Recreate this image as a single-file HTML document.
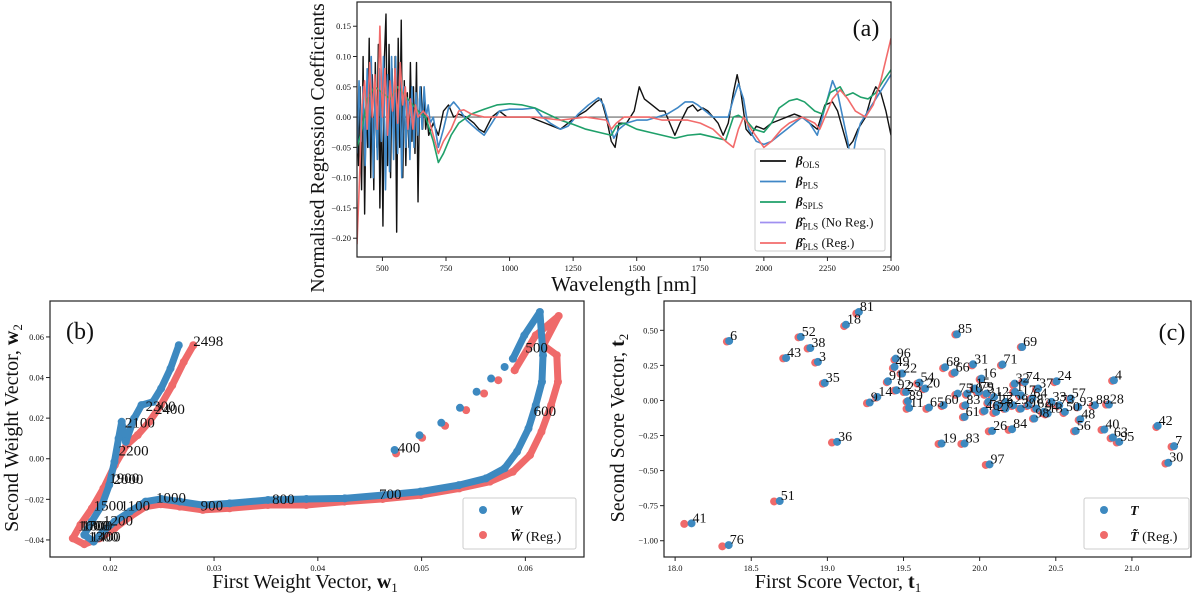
<!DOCTYPE html>
<html><head><meta charset="utf-8"><style>
html,body{margin:0;padding:0;background:#fff}
svg{display:block}
text{font-family:"Liberation Serif","DejaVu Serif",serif;fill:#111}
.tick{font-size:8.5px}
</style></head><body>
<svg id="fig" width="1200" height="593" viewBox="0 0 1200 593" xmlns="http://www.w3.org/2000/svg">
<g id="pa"></g>
<g id="pb"></g>
<g id="pc"></g>
</svg>
<script>
// ---------- Panel (a) data ----------
const olsWave=[400,406,412,418,424,430,436,442,448,454,460,466,472,478,484,490,496,502,508,514,520,526,532,538,544,550,556,562,568,574,580,586,592,598,604,610,616,622,628,634,640,646,652,658,664,670,676,682,700,720,740,760,780,800,830,860,880,900,930,960,990,1020,1050,1080,1110,1140,1170,1200,1230,1260,1300,1340,1360,1380,1400,1415,1430,1460,1490,1510,1530,1560,1590,1610,1630,1650,1670,1700,1720,1740,1760,1780,1800,1820,1840,1860,1880,1895,1910,1930,1950,1970,2000,2030,2060,2090,2120,2150,2180,2210,2240,2270,2290,2310,2330,2350,2370,2400,2420,2440,2460,2480,2500];
const olsVal=[0.0,-0.08,0.05,-0.12,0.1,-0.16,0.03,-0.05,0.13,-0.1,0.07,-0.12,0.09,-0.05,0.12,-0.15,0.04,-0.18,0.1,0.17,-0.08,0.12,-0.1,0.08,-0.06,0.1,-0.19,0.13,-0.05,0.16,-0.1,0.06,-0.08,0.04,-0.05,0.09,-0.04,0.05,-0.06,0.09,-0.14,0.03,0.05,-0.02,0.04,-0.02,0.0,-0.03,-0.01,-0.03,0.01,0.02,0.0,0.005,0.0,-0.01,-0.02,-0.025,0.0,0.01,0.0,0.0,0.0,0.0,-0.005,-0.01,-0.015,-0.02,-0.01,0.0,0.01,0.025,0.03,0.0,-0.04,-0.05,-0.01,-0.01,0.01,0.05,0.03,0.02,0.01,0.01,-0.01,-0.03,-0.01,0.015,0.02,0.01,0.015,0.01,0.0,-0.01,-0.03,-0.01,0.04,0.07,0.04,-0.02,-0.03,-0.015,-0.02,-0.01,-0.005,0.0,0.005,0.0,-0.01,-0.02,0.02,0.025,0.01,-0.02,-0.05,-0.04,-0.02,0.0,0.03,0.05,0.04,0.01,-0.03];
const plsWave=[400,408,416,424,432,440,448,456,464,472,480,488,496,504,512,520,528,536,544,552,560,568,576,584,592,600,608,616,624,632,640,648,656,664,672,680,688,700,720,740,760,780,800,830,870,900,930,960,1000,1050,1100,1130,1160,1200,1230,1270,1310,1350,1370,1390,1410,1430,1460,1500,1540,1580,1620,1660,1690,1720,1740,1770,1800,1830,1860,1880,1900,1920,1940,1970,2000,2030,2060,2090,2120,2150,2180,2210,2230,2250,2270,2290,2310,2330,2345,2360,2380,2410,2440,2470,2500];
const plsVal=[-0.06,0.06,-0.04,0.05,-0.08,0.08,-0.05,0.1,-0.1,0.05,-0.07,0.08,-0.04,0.1,-0.12,0.07,-0.09,0.1,-0.07,0.1,-0.06,0.08,-0.1,0.05,-0.05,0.03,-0.07,0.05,-0.05,0.04,-0.03,0.05,-0.02,0.05,0.0,0.02,-0.01,0.0,-0.05,-0.02,0.015,0.025,0.015,-0.005,-0.02,-0.03,-0.01,0.01,0.013,0.013,0.015,0.0,-0.01,-0.02,-0.015,0.005,0.02,0.032,0.02,-0.01,-0.035,-0.02,-0.01,-0.005,-0.005,0.0,0.005,0.015,0.025,0.025,0.02,0.01,0.0,0.0,0.0,0.03,0.055,0.03,-0.02,-0.04,-0.045,-0.04,-0.03,-0.02,-0.01,0.0,-0.01,-0.03,0.0,0.03,0.06,0.04,0.0,-0.04,-0.08,-0.04,-0.01,0.01,0.03,0.05,0.07];
const splsWave=[400,420,440,470,500,530,560,600,640,670,700,720,740,770,800,850,900,950,1000,1050,1100,1150,1200,1250,1300,1350,1400,1420,1450,1500,1550,1600,1650,1700,1750,1800,1850,1880,1900,1930,1960,2000,2030,2060,2100,2130,2160,2200,2230,2260,2300,2320,2350,2380,2410,2440,2470,2500];
const splsVal=[-0.05,-0.02,0.03,0.05,0.04,0.03,0.05,0.03,0.01,0.0,-0.04,-0.075,-0.06,-0.03,-0.01,0.005,0.013,0.02,0.022,0.02,0.015,0.005,-0.005,-0.012,-0.02,-0.025,-0.03,-0.015,-0.01,-0.02,-0.025,-0.03,-0.035,-0.03,-0.028,-0.033,-0.038,0.0,0.003,-0.005,-0.02,-0.025,-0.01,0.015,0.027,0.03,0.025,0.01,0.005,0.04,0.05,0.035,0.04,0.033,0.03,0.04,0.06,0.078];
const regWave=[400,410,420,430,440,450,460,470,480,490,500,510,520,530,540,550,560,570,580,590,600,610,620,630,640,660,680,700,720,740,770,800,820,850,900,1000,1100,1200,1300,1380,1400,1420,1450,1500,1550,1600,1700,1750,1800,1850,1880,1900,1920,1950,2000,2030,2070,2100,2150,2200,2220,2240,2270,2300,2330,2360,2400,2430,2460,2500];
const regVal=[-0.21,-0.1,0.02,0.06,-0.02,0.09,0.0,0.07,-0.02,0.15,0.0,0.08,-0.03,0.06,0.01,0.08,-0.01,0.09,0.02,0.05,-0.02,0.03,-0.02,0.02,0.0,0.01,0.0,-0.03,-0.06,-0.04,-0.02,0.01,0.012,0.005,0.0,0.0,0.0,-0.005,0.0,-0.005,-0.02,-0.01,0.0,0.0,0.0,-0.005,-0.005,-0.01,-0.02,-0.04,-0.05,-0.02,0.0,-0.02,-0.05,-0.04,-0.02,-0.01,0.0,-0.01,-0.02,0.0,0.03,0.045,0.03,0.01,0.0,0.02,0.06,0.13];
const aXTicks=[500,750,1000,1250,1500,1750,2000,2250,2500];
const aYTicks=[-0.20,-0.15,-0.10,-0.05,0.00,0.05,0.10,0.15];

// ---------- Panel (b) data ----------
const wX=[0.0474,0.0498,0.0519,0.0537,0.0553,0.0567,0.0580,0.0588,0.0599,0.0614,0.0617,0.0616,0.0610,0.0603,0.0592,0.0580,0.0562,0.0536,0.0499,0.0463,0.0426,0.0389,0.0352,0.0315,0.0289,0.0267,0.0249,0.0234,0.0219,0.0204,0.0193,0.0184,0.0175,0.0182,0.0192,0.0199,0.0204,0.0208,0.0211,0.0215,0.0223,0.0230,0.0241,0.0249,0.0258,0.0266];
const wY=[0.0043,0.0116,0.0177,0.0251,0.0330,0.0395,0.0452,0.0493,0.0608,0.0723,0.0510,0.0379,0.0264,0.0149,0.0035,-0.0047,-0.0097,-0.0130,-0.0162,-0.0179,-0.0195,-0.0198,-0.0203,-0.0220,-0.0228,-0.0211,-0.0198,-0.0211,-0.0260,-0.0310,-0.0359,-0.0408,-0.0375,-0.0310,-0.0228,-0.0129,-0.0015,0.0100,0.0182,0.0084,0.0199,0.0264,0.0280,0.0346,0.0444,0.0559];
const wrX=[0.04754,0.05005,0.05226,0.05429,0.05602,0.05739,0.05897,0.0610,0.06321,0.06174,0.06303,0.06314,0.06248,0.06155,0.06045,0.05879,0.05658,0.05363,0.04994,0.04625,0.04256,0.03888,0.03519,0.0315,0.02892,0.02671,0.02487,0.02339,0.02192,0.02044,0.01897,0.01749,0.01639,0.01712,0.01823,0.01934,0.02044,0.02155,0.02265,0.02376,0.02487,0.02597,0.02708,0.0280];
const wrY=[0.00264,0.01034,0.01624,0.02394,0.03214,0.03869,0.04361,0.0608,0.07033,0.0559,0.0510,0.0379,0.0264,0.0133,0.0018,-0.0064,-0.0113,-0.0146,-0.0179,-0.0198,-0.0211,-0.0228,-0.0228,-0.0244,-0.0252,-0.0236,-0.0224,-0.0236,-0.0285,-0.0342,-0.0392,-0.0421,-0.0392,-0.0326,-0.0244,-0.0146,-0.0031,0.0067,0.0117,0.0182,0.0264,0.0362,0.0477,0.0559];
const wLabels=["2498","2300","2400","2100","2200","1900","2000","1500","1100","1200","1600","1700","1800","1300","1400","1000","900","800","700","600","500","400"];
const wLabX=[0.0280,0.0234,0.0243,0.0214,0.0208,0.0199,0.0203,0.0184,0.0210,0.0193,0.0169,0.0171,0.0173,0.0179,0.0181,0.0244,0.0287,0.0356,0.0459,0.0608,0.0600,0.0477];
const wLabY=[0.0575,0.0256,0.0240,0.0174,0.0035,-0.0100,-0.0105,-0.0236,-0.0236,-0.0310,-0.0334,-0.0334,-0.0334,-0.0389,-0.0389,-0.0195,-0.0236,-0.0203,-0.0179,0.0231,0.0543,0.0051];
const bXTicks=[0.02,0.03,0.04,0.05,0.06];
const bYTicks=[-0.04,-0.02,0.00,0.02,0.04,0.06];

// ---------- Panel (c) data ----------
const tLabels=["6","52","38","43","3","18","81","35","36","51","41","76","85","69","71","31","68","66","16","74","4","24","37","54","96","49","22","91","92","23","20","9","14","89","11","65","60","75","83","61","46","27","26","84","19","83","97","56","48","40","63","95","42","7","30","88","28","79","5","12","2","29","39","78","62","94","33","73","50","57","93","17","64","13","98","1","8","10","15","21","25","32"];
const tX=[18.355,18.825,18.888,18.729,18.938,19.122,19.207,18.983,19.064,18.687,18.108,18.352,19.851,20.279,20.150,19.957,19.773,19.836,20.012,20.296,20.882,20.505,20.384,19.605,19.449,19.441,19.491,19.398,19.454,19.517,19.642,19.278,19.328,19.529,19.537,19.667,19.763,19.856,19.906,19.901,20.032,20.108,20.082,20.213,19.750,19.901,20.065,20.631,20.661,20.819,20.875,20.917,21.169,21.277,21.239,20.757,20.849,19.994,20.045,20.095,20.170,20.221,20.271,20.321,20.372,20.422,20.472,20.523,20.560,20.598,20.648,20.271,20.346,20.447,20.359,20.233,20.170,19.919,19.969,20.057,20.120,20.230];
const tY=[0.424,0.453,0.374,0.303,0.275,0.540,0.631,0.125,-0.295,-0.717,-0.876,-1.031,0.472,0.381,0.256,0.258,0.237,0.199,0.156,0.132,0.144,0.137,0.085,0.127,0.298,0.239,0.192,0.137,0.073,0.061,0.085,-0.015,0.025,-0.005,-0.053,-0.051,-0.034,0.049,-0.034,-0.117,-0.074,-0.081,-0.217,-0.205,-0.307,-0.307,-0.456,-0.217,-0.134,-0.207,-0.264,-0.295,-0.181,-0.326,-0.444,-0.034,-0.029,0.061,0.049,0.025,-0.010,-0.034,-0.058,-0.034,-0.058,-0.081,-0.010,-0.034,-0.081,0.014,-0.046,0.037,0.014,-0.093,-0.129,0.061,-0.058,0.049,0.085,-0.010,-0.034,0.120];
const trX=[18.34,18.81,18.87,18.71,18.92,19.11,19.19,18.97,19.03,18.65,18.06,18.31,19.84,20.27,20.14,19.95,19.76,19.82,20.00,20.28,20.87,20.49,20.37,19.59,19.44,19.43,19.48,19.39,19.44,19.50,19.63,19.26,19.32,19.52,19.52,19.65,19.75,19.84,19.89,19.89,20.02,20.09,20.06,20.19,19.73,19.88,20.04,20.62,20.65,20.80,20.86,20.90,21.16,21.26,21.22,20.74,20.83,19.98,20.03,20.08,20.16,20.21,20.26,20.31,20.36,20.41,20.46,20.51,20.55,20.59,20.64,20.26,20.33,20.43,20.35,20.22,20.16,19.91,19.96,20.05,20.11,20.22];
const trY=[0.42,0.45,0.37,0.30,0.27,0.53,0.62,0.12,-0.30,-0.72,-0.88,-1.04,0.47,0.38,0.25,0.25,0.23,0.19,0.15,0.13,0.14,0.13,0.08,0.12,0.29,0.23,0.19,0.13,0.07,0.06,0.08,-0.02,0.02,-0.01,-0.06,-0.06,-0.04,0.04,-0.04,-0.12,-0.08,-0.09,-0.22,-0.21,-0.31,-0.31,-0.46,-0.22,-0.14,-0.21,-0.27,-0.30,-0.19,-0.33,-0.45,-0.04,-0.03,0.06,0.04,0.02,-0.02,-0.04,-0.06,-0.04,-0.06,-0.09,-0.02,-0.04,-0.09,0.01,-0.05,0.03,0.01,-0.10,-0.13,0.06,-0.06,0.04,0.08,-0.02,-0.04,0.11];
const cXTicks=[18.0,18.5,19.0,19.5,20.0,20.5,21.0];
const cYTicks=[-1.00,-0.75,-0.50,-0.25,0.00,0.25,0.50];

const NS="http://www.w3.org/2000/svg";
function mk(tag,attrs,parent){const e=document.createElementNS(NS,tag);for(const k in attrs)e.setAttribute(k,attrs[k]);parent.appendChild(e);return e;}
function scale(d0,d1,r0,r1){return v=>r0+(v-d0)/(d1-d0)*(r1-r0);}
function frame(g,L,T,R,B,xs,ys,xt,yt,xfmt,yfmt){
  const box=mk('rect',{x:L,y:T,width:R-L,height:B-T,fill:'none',stroke:'#222','stroke-width':1.2},g);
  
  xt.forEach(v=>{const x=xs(v);
    const t=mk('line',{x1:x,x2:x,y1:B,y2:B+4,stroke:'#222'},g);
    const l=mk('text',{x:x,y:B+14,'text-anchor':'middle',class:'tick'},g);l.textContent=xfmt(v);
    });
  yt.forEach(v=>{const y=ys(v);
    const t=mk('line',{x1:L-4,x2:L,y1:y,y2:y,stroke:'#222'},g);
    const l=mk('text',{x:L-6,y:y+3,'text-anchor':'end',class:'tick'},g);l.textContent=yfmt(v);
    });
}
function fmt(v,n){const s=Math.abs(v).toFixed(n);return (v<0?'\u2212':'')+s;}
function txt(g,x,y,s,size,attrs,name){const t=mk('text',Object.assign({x:x,y:y,'font-size':size},attrs||{}),g);t.innerHTML=s;return t;}

// ===== Panel (a)
(function(){
  const g=document.getElementById('pa');
  const L=357,T=2,R=891,B=257;
  const xs=scale(400,2500,L,R), ys=scale(0.19,-0.231,T,B);
  const cp=mk('clipPath',{id:'clipA'},g);mk('rect',{x:L,y:T,width:R-L,height:B-T},cp);
  const zl=mk('line',{x1:L,x2:R,y1:ys(0),y2:ys(0),stroke:'#666','stroke-width':1.2},g);
  
  function line(w,v,c,name,wd){const p=mk('polyline',{points:w.map((x,i)=>xs(x)+','+ys(v[i])).join(' '),fill:'none',stroke:c,'stroke-width':wd,'clip-path':'url(#clipA)','stroke-linejoin':'round'},g);
    }
  line(olsWave,olsVal,'#111','beta-ols-line',1.4);
  line(plsWave,plsVal,'#3f87c6','beta-pls-line',1.6);
  line(splsWave,splsVal,'#1fa06a','beta-spls-line',1.6);
  line(regWave,regVal,'#f26b6b','beta-pls-reg-line',1.6);
  frame(g,L,T,R,B,xs,ys,aXTicks,aYTicks,v=>String(v),v=>fmt(v,2));
  txt(g,624,291,'Wavelength [nm]',21,{'text-anchor':'middle'},'x-axis-title');
  txt(g,0,0,'Normalised Regression Coefficients',20,{'text-anchor':'middle',transform:'translate(324,148) rotate(-90)'},'y-axis-title');
  txt(g,866,36,'(a)',24,{'text-anchor':'middle'},'panel-label-a');
  const lg=mk('g',{},g);
  mk('rect',{x:755,y:149,width:130,height:102,fill:'#fff',stroke:'#ccc',rx:2},lg);
  const items=[['#111','<tspan font-weight="bold" font-style="italic">β</tspan><tspan font-size="9" dy="3">OLS</tspan>'],
    ['#3f87c6','<tspan font-weight="bold" font-style="italic">β</tspan><tspan font-size="9" dy="3">PLS</tspan>'],
    ['#1fa06a','<tspan font-weight="bold" font-style="italic">β</tspan><tspan font-size="9" dy="3">SPLS</tspan>'],
    ['#a090f0','<tspan font-weight="bold" font-style="italic">β̂</tspan><tspan font-size="9" dy="3">PLS</tspan><tspan dy="-3"> (No Reg.)</tspan>'],
    ['#f26b6b','<tspan font-weight="bold" font-style="italic">β̂</tspan><tspan font-size="9" dy="3">PLS</tspan><tspan dy="-3"> (Reg.)</tspan>']];
  items.forEach((it,i)=>{const y=161+i*20.5;
    const ln=mk('line',{x1:760,x2:786,y1:y,y2:y,stroke:it[0],'stroke-width':1.8},lg);
    txt(lg,796,y+4,it[1],13,{},'legend-entry');});
})();

// ===== Panel (b)
(function(){
  const g=document.getElementById('pb');
  const L=50,T=301,R=584,B=557;
  const xs=scale(0.01419,0.06565,L,R), ys=scale(0.0777,-0.0484,T,B);
  function band(X,Y,c,name){
    const p=mk('polyline',{points:X.map((x,i)=>xs(x)+','+ys(Y[i])).join(' '),fill:'none',stroke:c,'stroke-width':7,'stroke-linejoin':'round','stroke-linecap':'round'},g);
    
    X.forEach((x,i)=>{const d=mk('circle',{cx:xs(x),cy:ys(Y[i]),r:4,fill:c},g);});
  }
  // spaced points at start (first 8) drawn as dots only
  function spaced(X,Y,c,name,n){X.slice(0,n).forEach((x,i)=>{const d=mk('circle',{cx:xs(x),cy:ys(Y[i]),r:4,fill:c},g);});}
  band(wrX.slice(6),wrY.slice(6),'#ef6a6a','w-reg');
  spaced(wrX,wrY,'#ef6a6a','w-reg',7);
  band(wX.slice(7),wY.slice(7),'#3d89c0','w');
  spaced(wX,wY,'#3d89c0','w',8);
  wLabels.forEach((s,i)=>txt(g,xs(wLabX[i]),ys(wLabY[i])+4,s,15,{},'weight-label'));
  frame(g,L,T,R,B,xs,ys,bXTicks,bYTicks,v=>v.toFixed(2),v=>fmt(v,2));
  txt(g,305,588,'First Weight Vector, <tspan font-weight="bold">w</tspan><tspan font-size="13" dy="4">1</tspan>',20,{'text-anchor':'middle'},'x-axis-title');
  txt(g,0,0,'Second Weight Vector, <tspan font-weight="bold">w</tspan><tspan font-size="13" dy="4">2</tspan>',20,{'text-anchor':'middle',transform:'translate(18,428) rotate(-90)'},'y-axis-title');
  txt(g,80,339,'(b)',24,{'text-anchor':'middle'},'panel-label-b');
  const lg=mk('g',{},g);
  mk('rect',{x:463,y:498,width:113,height:51,fill:'#fff',stroke:'#ccc',rx:2},lg);
  mk('circle',{cx:483,cy:510,r:4,fill:'#3d89c0'},lg);mk('circle',{cx:483,cy:535,r:4,fill:'#ef6a6a'},lg);
  txt(lg,510,515,'<tspan font-weight="bold" font-style="italic">W</tspan>',14,{},'legend-entry');
  txt(lg,510,541,'<tspan font-weight="bold" font-style="italic">W̃</tspan> (Reg.)',14,{},'legend-entry');
})();

// ===== Panel (c)
(function(){
  const g=document.getElementById('pc');
  const L=664,T=301,R=1191,B=557;
  const xs=scale(17.927,21.388,L,R), ys=scale(0.709,-1.116,T,B);
  trX.forEach((x,i)=>{const d=mk('circle',{cx:xs(x),cy:ys(trY[i]),r:4,fill:'#ef6a6a'},g);});
  tX.forEach((x,i)=>{const d=mk('circle',{cx:xs(x),cy:ys(tY[i]),r:4,fill:'#3d89c0'},g);});
  tLabels.forEach((s,i)=>txt(g,xs(tX[i])+1,ys(tY[i])-1,s,14,{},'score-label'));
  frame(g,L,T,R,B,xs,ys,cXTicks,cYTicks,v=>v.toFixed(1),v=>fmt(v,2));
  txt(g,838,588,'First Score Vector, <tspan font-weight="bold">t</tspan><tspan font-size="13" dy="4">1</tspan>',20,{'text-anchor':'middle'},'x-axis-title');
  txt(g,0,0,'Second Score Vector, <tspan font-weight="bold">t</tspan><tspan font-size="13" dy="4">2</tspan>',20,{'text-anchor':'middle',transform:'translate(624,428) rotate(-90)'},'y-axis-title');
  txt(g,1172,340,'(c)',24,{'text-anchor':'middle'},'panel-label-c');
  const lg=mk('g',{},g);
  mk('rect',{x:1084,y:498,width:105,height:51,fill:'#fff',stroke:'#ccc',rx:2},lg);
  mk('circle',{cx:1104,cy:510,r:4,fill:'#3d89c0'},lg);mk('circle',{cx:1104,cy:535,r:4,fill:'#ef6a6a'},lg);
  txt(lg,1130,515,'<tspan font-weight="bold" font-style="italic">T</tspan>',14,{},'legend-entry');
  txt(lg,1130,541,'<tspan font-weight="bold" font-style="italic">T̃</tspan> (Reg.)',14,{},'legend-entry');
})();
</script>
</body></html>
